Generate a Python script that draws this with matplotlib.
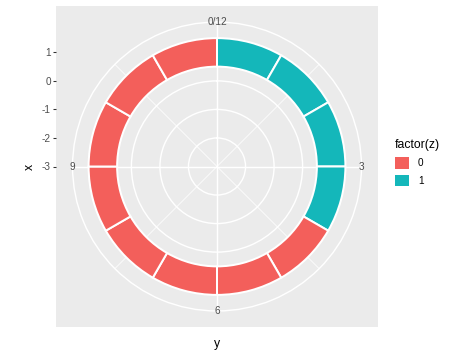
import matplotlib.pyplot as plt
import numpy as np
from matplotlib.patches import Patch

plt.rcParams['font.family'] = ['Liberation Sans', 'DejaVu Sans']

# 数据
seg_start = list(range(12))                  # 每段在 y 方向的起点
seg_z = [1, 1, 1, 1, 0, 0, 0, 0, 0, 0, 0, 0]  # 每段的 z
ring_x = 1                                   # 环所在的 x
x_lim = (-3, 1.5)
y_lim = (0, 12)
x_breaks = [-3, -2, -1, 0, 1]
x_labels = ['-3', '-2', '-1', '0', '1']
y_breaks = [0, 3, 6, 9]
y_minor = [1.5, 4.5, 7.5, 10.5]
y_labels = ['0/12', '3', '6', '9']
z_levels = [0, 1]
z_colors = {0: '#F35F5B', 1: '#14B7BA'}

W, H, DPI = 474, 355, 72
fig = plt.figure(figsize=(W / DPI, H / DPI), dpi=DPI)

TICK_FS = 10
TITLE_FS = 12.3

# 面板位置(像素)
p_left, p_top, p_w, p_h = 56, 6, 322, 321
cx, cy = p_left + p_w / 2, p_top + p_h / 2
rad = 0.45 * p_h

# 背景坐标轴, 用来画灰色面板和左侧 x 刻度
ax_bg = fig.add_axes([p_left / W, 1 - (p_top + p_h) / H, p_w / W, p_h / H])
ax_bg.set_facecolor('#EBEBEB')
half = (x_lim[1] - x_lim[0]) / 0.4 * 0.5
ax_bg.set_ylim(x_lim[0] - half, x_lim[0] + half)
ax_bg.set_xlim(0, 1)
for s in ax_bg.spines.values():
    s.set_visible(False)
ax_bg.set_xticks([])
ax_bg.set_yticks(x_breaks)
ax_bg.set_yticklabels(x_labels)
ax_bg.tick_params(axis='y', length=3, width=1.07, color='#333333',
                  labelcolor='#4D4D4D', labelsize=TICK_FS, pad=2.2)
ax_bg.set_ylabel('x', fontsize=TITLE_FS, labelpad=5.5)
ax_bg.set_xlabel('y', fontsize=TITLE_FS, labelpad=11)

# 极坐标
ax = fig.add_axes([(cx - rad) / W, 1 - (cy + rad) / H, 2 * rad / W, 2 * rad / H],
                  projection='polar')
ax.set_facecolor('none')
ax.set_theta_zero_location('N')
ax.set_theta_direction(-1)
r_outer = x_lim[0] + (x_lim[1] - x_lim[0]) * 0.45 / 0.4
ax.set_rlim(x_lim[0], r_outer)


def to_theta(v):
    return 2 * np.pi * (np.asarray(v, dtype=float) - y_lim[0]) / (y_lim[1] - y_lim[0])


ax.set_axisbelow(True)
ax.bar(to_theta(np.array(seg_start) + 0.5), 1, width=to_theta(1) - to_theta(0),
       bottom=ring_x - 0.5, color=[z_colors[z] for z in seg_z],
       edgecolor='white', linewidth=2, align='center')

ax.set_xticks(to_theta(y_breaks))
ax.set_xticklabels([])
ax.set_xticks(to_theta(y_minor), minor=True)
ax.set_yticks(x_breaks)
ax.set_yticklabels([])
ax.tick_params(axis='both', which='both', length=0)
ax.grid(which='major', color='white', linewidth=1.42)
ax.grid(which='minor', axis='x', color='white', linewidth=0.71)
ax.spines['polar'].set_color('white')
ax.spines['polar'].set_linewidth(1.42)

for b, lab in zip(y_breaks, y_labels):
    ax.text(to_theta(b), r_outer, lab, ha='center', va='center',
            fontsize=TICK_FS, color='#4D4D4D')

# 图例
handles = [Patch(facecolor=z_colors[z], edgecolor='none', label=str(z)) for z in z_levels]
leg = fig.legend(handles=handles, title='factor(z)', loc='upper left',
                 bbox_to_anchor=(395 / W, 1 - 139 / H), frameon=False,
                 fontsize=TICK_FS, title_fontsize=TITLE_FS,
                 handlelength=1.4, handleheight=1.4,
                 handletextpad=0.9, labelspacing=0.6, borderpad=0, borderaxespad=0,
                 alignment='left')

fig.savefig('out.png', dpi=DPI)
